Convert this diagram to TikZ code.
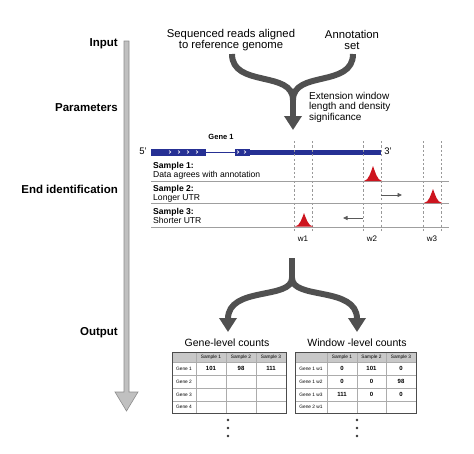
\documentclass[tikz,border=0pt]{standalone}
\usepackage{fontspec}
\setmainfont{Liberation Sans}
\usetikzlibrary{arrows.meta}
\definecolor{navy}{RGB}{38,48,148}
\definecolor{peakred}{RGB}{205,20,30}
\definecolor{flow}{RGB}{80,80,80}
\definecolor{hdr}{RGB}{200,200,200}
\definecolor{railfill}{RGB}{192,192,192}
\definecolor{railedge}{RGB}{140,140,140}
\begin{document}
\begin{tikzpicture}[x=1pt,y=-1pt,
  stage/.style={font=\fontsize{11.5}{13}\selectfont\bfseries, anchor=east, inner sep=0},
  intext/.style={font=\fontsize{11.3}{11}\selectfont, align=center, inner sep=0},
  partext/.style={font=\fontsize{10}{10.5}\selectfont, align=left, anchor=north west, inner sep=0},
  flowline/.style={draw=flow, line width=6pt},
  flowarrow/.style={draw=flow, line width=6pt, -{Triangle[width=17pt,length=14pt]}},
  stitle/.style={font=\fontsize{8.6}{9}\selectfont\bfseries, anchor=base west, inner sep=0},
  sdesc/.style={font=\fontsize{8.6}{9}\selectfont, anchor=base west, inner sep=0},
  rowline/.style={draw=gray!75, line width=1pt},
  winline/.style={draw=gray!80, line width=0.7pt, dash pattern=on 2.2pt off 2.2pt},
  wlab/.style={font=\fontsize{8}{9}\selectfont, inner sep=0},
  peakshape/.style={fill=peakred},
  smallarrow/.style={draw=gray!70!black, line width=0.8pt, -{Triangle[width=4pt,length=4.5pt]}},
  ttitle/.style={font=\fontsize{10.5}{12}\selectfont, inner sep=0},
  grid/.style={draw=gray!65, line width=0.6pt},
  tabframe/.style={draw=gray!60!black, line width=0.9pt},
  hcell/.style={font=\fontsize{4.8}{5}\selectfont, inner sep=0},
  rcell/.style={font=\fontsize{4.8}{5}\selectfont, inner sep=0},
  vcell/.style={font=\fontsize{6}{6}\selectfont\bfseries, inner sep=0},
  dot/.style={fill=gray!40!black, draw=none}
]
\path[use as bounding box] (0,0) rectangle (474,453);

% ---------- stage labels and gray rail ----------
\node[stage] (sinput) at (118,44) {Input};
\node[stage] (sparam) at (118,108) {Parameters};
\node[stage] (send) at (118,189) {End identification};
\node[stage] (sout) at (118,333) {Output};
\coordinate (railtop) at (126.5,41);
\coordinate (railtip) at (126.5,411);
\draw[fill=railfill, draw=railedge, line width=0.6pt]
  (124,41) -- (129,41) -- (129,392) -- (138,392) -- (railtip) -- (115,392) -- (124,392) -- cycle;

% ---------- input texts and merging arrow ----------
\node[intext] (reads) at (231,40) {Sequenced reads aligned\\to reference genome};
\node[intext] (annot) at (352,40) {Annotation\\set};
\coordinate (srcL) at (232,54);
\coordinate (srcR) at (353,54);
\coordinate (merge) at (293,100);
\coordinate (ptip) at (293,130);
\draw[flowline] (srcL) .. controls (232,88) and (293,70) .. (merge);
\draw[flowline] (srcR) .. controls (353,88) and (293,70) .. (merge);
\draw[flowarrow] (293,99) -- (ptip);
\node[partext] (params) at (309,92) {Extension window\\length and density\\significance};

% ---------- gene model ----------
\node[font=\fontsize{7.5}{8}\selectfont\bfseries, inner sep=0] (gene) at (221,137) {Gene 1};
\node[font=\fontsize{9.5}{10}\selectfont, inner sep=0] (five) at (143,151) {5'};
\node[font=\fontsize{9.5}{10}\selectfont, inner sep=0] (three) at (388,151) {3'};
\fill[navy] (151,148.5) rectangle (206,155.5);
\draw[navy, line width=1pt] (206,152) -- (235,152);
\fill[navy] (235,148.5) rectangle (250,155.5);
\fill[navy] (250,149.5) rectangle (381,154.5);
\foreach \x in {170,179,188,197,238,245}
  \draw[white, line width=0.6pt] (\x-0.9,150.6) -- (\x+0.8,152) -- (\x-0.9,153.4);

% ---------- windows ----------
\foreach \x [count=\i] in {294,312,363,381,423,441}
  \draw[winline] (\x,141) -- (\x,233);
\node[wlab] (w1) at (303,239) {w1};
\node[wlab] (w2) at (372,239) {w2};
\node[wlab] (w3) at (432,239) {w3};

% ---------- samples ----------
\node[stitle] (s1t) at (153,168) {Sample 1:};
\node[sdesc] (s1d) at (153,177) {Data agrees with annotation};
\node[stitle] (s2t) at (153,191) {Sample 2:};
\node[sdesc] (s2d) at (153,200) {Longer UTR};
\node[stitle] (s3t) at (153,214.5) {Sample 3:};
\node[sdesc] (s3d) at (153,223.5) {Shorter UTR};
\draw[rowline] (151,181) -- (449,181);
\draw[rowline] (151,203.5) -- (449,203.5);
\draw[rowline] (151,227) -- (449,227);

\fill[peakshape] (364,181) .. controls (369,180.5) and (371,171) .. (373,166)
  .. controls (375,171) and (377,180.5) .. (382,181) -- cycle;
\fill[peakshape] (424,203) .. controls (429,202.5) and (431,194) .. (433,189)
  .. controls (435,194) and (437,202.5) .. (442,203) -- cycle;
\fill[peakshape] (295,226.5) .. controls (300,226) and (302,218) .. (304,213)
  .. controls (306,218) and (308,226) .. (313,226.5) -- cycle;

\coordinate (a2s) at (381,195);
\coordinate (a2e) at (402,195);
\coordinate (a3s) at (363,218);
\coordinate (a3e) at (343,218);
\draw[smallarrow] (a2s) -- (a2e);
\draw[smallarrow] (a3s) -- (a3e);

% ---------- splitting arrow ----------
\coordinate (stem) at (292,258);
\coordinate (split) at (292,279);
\coordinate (gtip) at (228,332);
\coordinate (wtip) at (357,332);
\draw[flowline] (stem) -- (split);
\draw[flowarrow] (292,278) .. controls (292,300) and (228,286) .. (gtip);
\draw[flowarrow] (292,278) .. controls (292,300) and (357,286) .. (wtip);

\node[ttitle] (gtitle) at (227,343) {Gene-level counts};
\node[ttitle] (wtitle) at (357,343) {Window -level counts};

% ---------- gene table ----------
\fill[hdr] (172,352) rectangle (286,362);
\foreach \x in {196,226,256} \draw[grid] (\x,352) -- (\x,413);
\foreach \y in {362,375,388,401} \draw[grid] (172,\y) -- (286,\y);
\draw[tabframe] (172,352) rectangle (286,413);
\foreach \t/\x [count=\i] in {Sample 1/211,Sample 2/241,Sample 3/271}
  \node[hcell] (gh\i) at (\x,357) {\t};
\foreach \t/\y [count=\i] in {Gene 1/368.5,Gene 2/381.5,Gene 3/394.5,Gene 4/407}
  \node[rcell] (gr\i) at (184,\y) {\t};
\node[vcell] (gv1) at (211,368) {101};
\node[vcell] (gv2) at (241,368) {98};
\node[vcell] (gv3) at (271,368) {111};
\foreach \y [count=\i] in {420,428,436} \fill[dot] (228,\y) circle (1.4);

% ---------- window table ----------
\fill[hdr] (295,352) rectangle (416,362);
\foreach \x in {327,357,386} \draw[grid] (\x,352) -- (\x,413);
\foreach \y in {362,375,388,401} \draw[grid] (295,\y) -- (416,\y);
\draw[tabframe] (295,352) rectangle (416,413);
\foreach \t/\x [count=\i] in {Sample 1/342,Sample 2/371.5,Sample 3/401}
  \node[hcell] (wh\i) at (\x,357) {\t};
\foreach \t/\y [count=\i] in {Gene 1 w1/368.5,Gene 1 w2/381.5,Gene 1 w3/394.5,Gene 2 w1/407}
  \node[rcell] (wr\i) at (311,\y) {\t};
\node[vcell] (wv11) at (342,368) {0};
\node[vcell] (wv12) at (371.5,368) {101};
\node[vcell] (wv13) at (401,368) {0};
\node[vcell] (wv21) at (342,381) {0};
\node[vcell] (wv22) at (371.5,381) {0};
\node[vcell] (wv23) at (401,381) {98};
\node[vcell] (wv31) at (342,394) {111};
\node[vcell] (wv32) at (371.5,394) {0};
\node[vcell] (wv33) at (401,394) {0};
\foreach \y [count=\i] in {420,428,436} \fill[dot] (357,\y) circle (1.4);
\end{tikzpicture}
\end{document}
